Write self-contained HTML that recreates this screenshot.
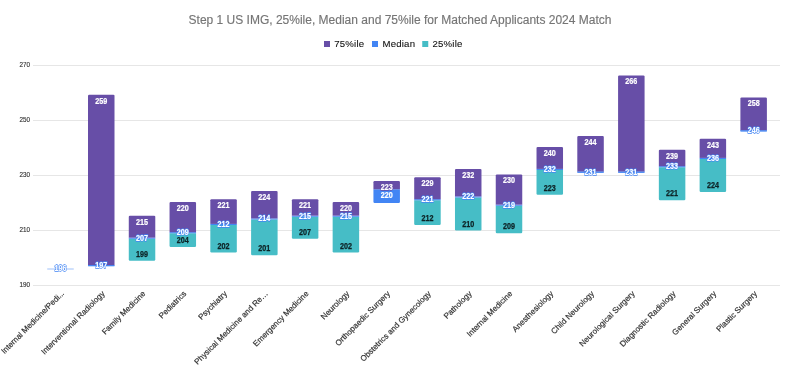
<!DOCTYPE html><html><head><meta charset="utf-8"><style>html,body{margin:0;padding:0;background:#fff;width:800px;height:376px;overflow:hidden}svg{display:block;will-change:transform}text{font-family:"Liberation Sans",sans-serif}</style></head><body>
<svg width="800" height="376" viewBox="0 0 800 376">
<defs><clipPath id="c1"><rect x="88.00" y="94.65" width="26.5" height="171.60" rx="1.2"/></clipPath><clipPath id="c2"><rect x="128.78" y="215.65" width="26.5" height="45.10" rx="1.2"/></clipPath><clipPath id="c3"><rect x="169.55" y="201.90" width="26.5" height="45.10" rx="1.2"/></clipPath><clipPath id="c4"><rect x="210.32" y="199.15" width="26.5" height="53.35" rx="1.2"/></clipPath><clipPath id="c5"><rect x="251.10" y="190.90" width="26.5" height="64.35" rx="1.2"/></clipPath><clipPath id="c6"><rect x="291.88" y="199.15" width="26.5" height="39.60" rx="1.2"/></clipPath><clipPath id="c7"><rect x="332.65" y="201.90" width="26.5" height="50.60" rx="1.2"/></clipPath><clipPath id="c8"><rect x="373.43" y="181.00" width="26.5" height="22.00" rx="1.2"/></clipPath><clipPath id="c9"><rect x="414.20" y="177.15" width="26.5" height="47.85" rx="1.2"/></clipPath><clipPath id="c10"><rect x="454.98" y="168.90" width="26.5" height="61.60" rx="1.2"/></clipPath><clipPath id="c11"><rect x="495.75" y="174.40" width="26.5" height="58.85" rx="1.2"/></clipPath><clipPath id="c12"><rect x="536.52" y="146.90" width="26.5" height="47.85" rx="1.2"/></clipPath><clipPath id="c13"><rect x="577.30" y="135.90" width="26.5" height="36.85" rx="1.2"/></clipPath><clipPath id="c14"><rect x="618.08" y="75.40" width="26.5" height="97.35" rx="1.2"/></clipPath><clipPath id="c15"><rect x="658.85" y="149.65" width="26.5" height="50.60" rx="1.2"/></clipPath><clipPath id="c16"><rect x="699.62" y="138.65" width="26.5" height="53.35" rx="1.2"/></clipPath><clipPath id="c17"><rect x="740.40" y="97.40" width="26.5" height="34.10" rx="1.2"/></clipPath></defs><rect x="0" y="0" width="800" height="376" fill="#fff"/>
<text x="400" y="23.5" text-anchor="middle" font-size="12" fill="#757575" stroke="#757575" stroke-width="0.15">Step 1 US IMG, 25%ile, Median and 75%ile for Matched Applicants 2024 Match</text>
<rect x="324" y="41" width="6" height="6" fill="#674ea7"/>
<text x="334.25" y="46.7" font-size="9.6" letter-spacing="0.2" fill="#111" stroke="#111" stroke-width="0.1">75%ile</text>
<rect x="372" y="41" width="6" height="6" fill="#4285f4"/>
<text x="382.5" y="46.7" font-size="9.6" letter-spacing="0.2" fill="#111" stroke="#111" stroke-width="0.1">Median</text>
<rect x="422.25" y="41" width="6" height="6" fill="#46bdc6"/>
<text x="432.5" y="46.7" font-size="9.6" letter-spacing="0.2" fill="#111" stroke="#111" stroke-width="0.1">25%ile</text>
<rect x="33" y="285.00" width="747" height="1" fill="#e6e6e6"/>
<text x="30" y="287.30" text-anchor="end" font-size="7" textLength="10.5" lengthAdjust="spacingAndGlyphs" fill="#333" stroke="#333" stroke-width="0.15">190</text>
<rect x="33" y="230.00" width="747" height="1" fill="#e6e6e6"/>
<text x="30" y="232.30" text-anchor="end" font-size="7" textLength="10.5" lengthAdjust="spacingAndGlyphs" fill="#333" stroke="#333" stroke-width="0.15">210</text>
<rect x="33" y="175.00" width="747" height="1" fill="#e6e6e6"/>
<text x="30" y="177.30" text-anchor="end" font-size="7" textLength="10.5" lengthAdjust="spacingAndGlyphs" fill="#333" stroke="#333" stroke-width="0.15">230</text>
<rect x="33" y="120.00" width="747" height="1" fill="#e6e6e6"/>
<text x="30" y="122.30" text-anchor="end" font-size="7" textLength="10.5" lengthAdjust="spacingAndGlyphs" fill="#333" stroke="#333" stroke-width="0.15">250</text>
<rect x="33" y="65.00" width="747" height="1" fill="#e6e6e6"/>
<text x="30" y="67.30" text-anchor="end" font-size="7" textLength="10.5" lengthAdjust="spacingAndGlyphs" fill="#333" stroke="#333" stroke-width="0.15">270</text>
<rect x="47.23" y="268.50" width="26.5" height="1" fill="#4285f4" fill-opacity="0.5"/>
<g clip-path="url(#c1)">
<rect x="86.00" y="265.15" width="30.5" height="1.10" fill="#4285f4"/>
<rect x="86.00" y="92.65" width="30.5" height="172.50" fill="#674ea7"/>
</g>
<rect x="88.00" y="265.15" width="26.5" height="1.10" fill="#4285f4"/>
<g clip-path="url(#c2)">
<rect x="126.78" y="238.75" width="30.5" height="24.00" fill="#46bdc6"/>
<rect x="126.78" y="237.65" width="30.5" height="1.10" fill="#4285f4"/>
<rect x="126.78" y="213.65" width="30.5" height="24.00" fill="#674ea7"/>
</g>
<g clip-path="url(#c3)">
<rect x="167.55" y="233.25" width="30.5" height="15.75" fill="#46bdc6"/>
<rect x="167.55" y="232.15" width="30.5" height="1.10" fill="#4285f4"/>
<rect x="167.55" y="199.90" width="30.5" height="32.25" fill="#674ea7"/>
</g>
<g clip-path="url(#c4)">
<rect x="208.32" y="225.00" width="30.5" height="29.50" fill="#46bdc6"/>
<rect x="208.32" y="223.90" width="30.5" height="1.10" fill="#4285f4"/>
<rect x="208.32" y="197.15" width="30.5" height="26.75" fill="#674ea7"/>
</g>
<g clip-path="url(#c5)">
<rect x="249.10" y="219.50" width="30.5" height="37.75" fill="#46bdc6"/>
<rect x="249.10" y="218.40" width="30.5" height="1.10" fill="#4285f4"/>
<rect x="249.10" y="188.90" width="30.5" height="29.50" fill="#674ea7"/>
</g>
<g clip-path="url(#c6)">
<rect x="289.88" y="216.75" width="30.5" height="24.00" fill="#46bdc6"/>
<rect x="289.88" y="215.65" width="30.5" height="1.10" fill="#4285f4"/>
<rect x="289.88" y="197.15" width="30.5" height="18.50" fill="#674ea7"/>
</g>
<g clip-path="url(#c7)">
<rect x="330.65" y="216.75" width="30.5" height="37.75" fill="#46bdc6"/>
<rect x="330.65" y="215.65" width="30.5" height="1.10" fill="#4285f4"/>
<rect x="330.65" y="199.90" width="30.5" height="15.75" fill="#674ea7"/>
</g>
<g clip-path="url(#c8)">
<rect x="371.43" y="189.25" width="30.5" height="15.75" fill="#4285f4"/>
<rect x="371.43" y="179.00" width="30.5" height="10.25" fill="#674ea7"/>
</g>
<g clip-path="url(#c9)">
<rect x="412.20" y="200.25" width="30.5" height="26.75" fill="#46bdc6"/>
<rect x="412.20" y="199.15" width="30.5" height="1.10" fill="#4285f4"/>
<rect x="412.20" y="175.15" width="30.5" height="24.00" fill="#674ea7"/>
</g>
<g clip-path="url(#c10)">
<rect x="452.98" y="197.50" width="30.5" height="35.00" fill="#46bdc6"/>
<rect x="452.98" y="196.40" width="30.5" height="1.10" fill="#4285f4"/>
<rect x="452.98" y="166.90" width="30.5" height="29.50" fill="#674ea7"/>
</g>
<g clip-path="url(#c11)">
<rect x="493.75" y="205.75" width="30.5" height="29.50" fill="#46bdc6"/>
<rect x="493.75" y="204.65" width="30.5" height="1.10" fill="#4285f4"/>
<rect x="493.75" y="172.40" width="30.5" height="32.25" fill="#674ea7"/>
</g>
<g clip-path="url(#c12)">
<rect x="534.52" y="170.00" width="30.5" height="26.75" fill="#46bdc6"/>
<rect x="534.52" y="168.90" width="30.5" height="1.10" fill="#4285f4"/>
<rect x="534.52" y="144.90" width="30.5" height="24.00" fill="#674ea7"/>
</g>
<g clip-path="url(#c13)">
<rect x="575.30" y="171.65" width="30.5" height="1.10" fill="#4285f4"/>
<rect x="575.30" y="133.90" width="30.5" height="37.75" fill="#674ea7"/>
</g>
<rect x="577.30" y="171.65" width="26.5" height="1.10" fill="#4285f4"/>
<g clip-path="url(#c14)">
<rect x="616.08" y="171.65" width="30.5" height="1.10" fill="#4285f4"/>
<rect x="616.08" y="73.40" width="30.5" height="98.25" fill="#674ea7"/>
</g>
<rect x="618.08" y="171.65" width="26.5" height="1.10" fill="#4285f4"/>
<g clip-path="url(#c15)">
<rect x="656.85" y="167.25" width="30.5" height="35.00" fill="#46bdc6"/>
<rect x="656.85" y="166.15" width="30.5" height="1.10" fill="#4285f4"/>
<rect x="656.85" y="147.65" width="30.5" height="18.50" fill="#674ea7"/>
</g>
<g clip-path="url(#c16)">
<rect x="697.62" y="159.00" width="30.5" height="35.00" fill="#46bdc6"/>
<rect x="697.62" y="157.90" width="30.5" height="1.10" fill="#4285f4"/>
<rect x="697.62" y="136.65" width="30.5" height="21.25" fill="#674ea7"/>
</g>
<g clip-path="url(#c17)">
<rect x="738.40" y="130.40" width="30.5" height="1.10" fill="#4285f4"/>
<rect x="738.40" y="95.40" width="30.5" height="35.00" fill="#674ea7"/>
</g>
<rect x="740.40" y="130.40" width="26.5" height="1.10" fill="#4285f4"/>
<text x="60.48" y="271.20" text-anchor="middle" font-size="8.3" font-weight="bold" textLength="12.0" lengthAdjust="spacingAndGlyphs" fill="#4285f4" stroke="#4285f4" stroke-width="1.3" stroke-linejoin="round">196</text>
<text x="60.48" y="271.20" text-anchor="middle" font-size="8.3" font-weight="bold" textLength="12.0" lengthAdjust="spacingAndGlyphs" fill="#fff" stroke="#fff" stroke-width="0.15">196</text>
<text x="101.25" y="103.55" text-anchor="middle" font-size="8.3" font-weight="bold" textLength="12.0" lengthAdjust="spacingAndGlyphs" fill="#fff" stroke="#fff" stroke-width="0.2">259</text>
<text x="101.25" y="268.10" text-anchor="middle" font-size="8.3" font-weight="bold" textLength="12.0" lengthAdjust="spacingAndGlyphs" fill="#4285f4" stroke="#4285f4" stroke-width="1.3" stroke-linejoin="round">197</text>
<text x="101.25" y="268.10" text-anchor="middle" font-size="8.3" font-weight="bold" textLength="12.0" lengthAdjust="spacingAndGlyphs" fill="#fff" stroke="#fff" stroke-width="0.15">197</text>
<text x="142.03" y="256.85" text-anchor="middle" font-size="8.3" font-weight="bold" textLength="12.0" lengthAdjust="spacingAndGlyphs" fill="#0d2326" stroke="#0d2326" stroke-width="0.25">199</text>
<text x="142.03" y="224.55" text-anchor="middle" font-size="8.3" font-weight="bold" textLength="12.0" lengthAdjust="spacingAndGlyphs" fill="#fff" stroke="#fff" stroke-width="0.2">215</text>
<text x="142.03" y="240.60" text-anchor="middle" font-size="8.3" font-weight="bold" textLength="12.0" lengthAdjust="spacingAndGlyphs" fill="#4285f4" stroke="#4285f4" stroke-width="1.3" stroke-linejoin="round">207</text>
<text x="142.03" y="240.60" text-anchor="middle" font-size="8.3" font-weight="bold" textLength="12.0" lengthAdjust="spacingAndGlyphs" fill="#fff" stroke="#fff" stroke-width="0.15">207</text>
<text x="182.80" y="243.10" text-anchor="middle" font-size="8.3" font-weight="bold" textLength="12.0" lengthAdjust="spacingAndGlyphs" fill="#0d2326" stroke="#0d2326" stroke-width="0.25">204</text>
<text x="182.80" y="210.80" text-anchor="middle" font-size="8.3" font-weight="bold" textLength="12.0" lengthAdjust="spacingAndGlyphs" fill="#fff" stroke="#fff" stroke-width="0.2">220</text>
<text x="182.80" y="235.10" text-anchor="middle" font-size="8.3" font-weight="bold" textLength="12.0" lengthAdjust="spacingAndGlyphs" fill="#4285f4" stroke="#4285f4" stroke-width="1.3" stroke-linejoin="round">209</text>
<text x="182.80" y="235.10" text-anchor="middle" font-size="8.3" font-weight="bold" textLength="12.0" lengthAdjust="spacingAndGlyphs" fill="#fff" stroke="#fff" stroke-width="0.15">209</text>
<text x="223.57" y="248.60" text-anchor="middle" font-size="8.3" font-weight="bold" textLength="12.0" lengthAdjust="spacingAndGlyphs" fill="#0d2326" stroke="#0d2326" stroke-width="0.25">202</text>
<text x="223.57" y="208.05" text-anchor="middle" font-size="8.3" font-weight="bold" textLength="12.0" lengthAdjust="spacingAndGlyphs" fill="#fff" stroke="#fff" stroke-width="0.2">221</text>
<text x="223.57" y="226.85" text-anchor="middle" font-size="8.3" font-weight="bold" textLength="12.0" lengthAdjust="spacingAndGlyphs" fill="#4285f4" stroke="#4285f4" stroke-width="1.3" stroke-linejoin="round">212</text>
<text x="223.57" y="226.85" text-anchor="middle" font-size="8.3" font-weight="bold" textLength="12.0" lengthAdjust="spacingAndGlyphs" fill="#fff" stroke="#fff" stroke-width="0.15">212</text>
<text x="264.35" y="251.35" text-anchor="middle" font-size="8.3" font-weight="bold" textLength="12.0" lengthAdjust="spacingAndGlyphs" fill="#0d2326" stroke="#0d2326" stroke-width="0.25">201</text>
<text x="264.35" y="199.80" text-anchor="middle" font-size="8.3" font-weight="bold" textLength="12.0" lengthAdjust="spacingAndGlyphs" fill="#fff" stroke="#fff" stroke-width="0.2">224</text>
<text x="264.35" y="221.35" text-anchor="middle" font-size="8.3" font-weight="bold" textLength="12.0" lengthAdjust="spacingAndGlyphs" fill="#4285f4" stroke="#4285f4" stroke-width="1.3" stroke-linejoin="round">214</text>
<text x="264.35" y="221.35" text-anchor="middle" font-size="8.3" font-weight="bold" textLength="12.0" lengthAdjust="spacingAndGlyphs" fill="#fff" stroke="#fff" stroke-width="0.15">214</text>
<text x="305.12" y="234.85" text-anchor="middle" font-size="8.3" font-weight="bold" textLength="12.0" lengthAdjust="spacingAndGlyphs" fill="#0d2326" stroke="#0d2326" stroke-width="0.25">207</text>
<text x="305.12" y="208.05" text-anchor="middle" font-size="8.3" font-weight="bold" textLength="12.0" lengthAdjust="spacingAndGlyphs" fill="#fff" stroke="#fff" stroke-width="0.2">221</text>
<text x="305.12" y="218.60" text-anchor="middle" font-size="8.3" font-weight="bold" textLength="12.0" lengthAdjust="spacingAndGlyphs" fill="#4285f4" stroke="#4285f4" stroke-width="1.3" stroke-linejoin="round">215</text>
<text x="305.12" y="218.60" text-anchor="middle" font-size="8.3" font-weight="bold" textLength="12.0" lengthAdjust="spacingAndGlyphs" fill="#fff" stroke="#fff" stroke-width="0.15">215</text>
<text x="345.90" y="248.60" text-anchor="middle" font-size="8.3" font-weight="bold" textLength="12.0" lengthAdjust="spacingAndGlyphs" fill="#0d2326" stroke="#0d2326" stroke-width="0.25">202</text>
<text x="345.90" y="210.80" text-anchor="middle" font-size="8.3" font-weight="bold" textLength="12.0" lengthAdjust="spacingAndGlyphs" fill="#fff" stroke="#fff" stroke-width="0.2">220</text>
<text x="345.90" y="218.60" text-anchor="middle" font-size="8.3" font-weight="bold" textLength="12.0" lengthAdjust="spacingAndGlyphs" fill="#4285f4" stroke="#4285f4" stroke-width="1.3" stroke-linejoin="round">215</text>
<text x="345.90" y="218.60" text-anchor="middle" font-size="8.3" font-weight="bold" textLength="12.0" lengthAdjust="spacingAndGlyphs" fill="#fff" stroke="#fff" stroke-width="0.15">215</text>
<text x="386.68" y="189.80" text-anchor="middle" font-size="8.3" font-weight="bold" textLength="12.0" lengthAdjust="spacingAndGlyphs" fill="#674ea7" stroke="#674ea7" stroke-width="1.3" stroke-linejoin="round">223</text>
<text x="386.68" y="189.80" text-anchor="middle" font-size="8.3" font-weight="bold" textLength="12.0" lengthAdjust="spacingAndGlyphs" fill="#fff" stroke="#fff" stroke-width="0.2">223</text>
<text x="386.68" y="198.40" text-anchor="middle" font-size="8.3" font-weight="bold" textLength="12.0" lengthAdjust="spacingAndGlyphs" fill="#fff" stroke="#fff" stroke-width="0.2">220</text>
<text x="427.45" y="221.10" text-anchor="middle" font-size="8.3" font-weight="bold" textLength="12.0" lengthAdjust="spacingAndGlyphs" fill="#0d2326" stroke="#0d2326" stroke-width="0.25">212</text>
<text x="427.45" y="186.05" text-anchor="middle" font-size="8.3" font-weight="bold" textLength="12.0" lengthAdjust="spacingAndGlyphs" fill="#fff" stroke="#fff" stroke-width="0.2">229</text>
<text x="427.45" y="202.10" text-anchor="middle" font-size="8.3" font-weight="bold" textLength="12.0" lengthAdjust="spacingAndGlyphs" fill="#4285f4" stroke="#4285f4" stroke-width="1.3" stroke-linejoin="round">221</text>
<text x="427.45" y="202.10" text-anchor="middle" font-size="8.3" font-weight="bold" textLength="12.0" lengthAdjust="spacingAndGlyphs" fill="#fff" stroke="#fff" stroke-width="0.15">221</text>
<text x="468.23" y="226.60" text-anchor="middle" font-size="8.3" font-weight="bold" textLength="12.0" lengthAdjust="spacingAndGlyphs" fill="#0d2326" stroke="#0d2326" stroke-width="0.25">210</text>
<text x="468.23" y="177.80" text-anchor="middle" font-size="8.3" font-weight="bold" textLength="12.0" lengthAdjust="spacingAndGlyphs" fill="#fff" stroke="#fff" stroke-width="0.2">232</text>
<text x="468.23" y="199.35" text-anchor="middle" font-size="8.3" font-weight="bold" textLength="12.0" lengthAdjust="spacingAndGlyphs" fill="#4285f4" stroke="#4285f4" stroke-width="1.3" stroke-linejoin="round">222</text>
<text x="468.23" y="199.35" text-anchor="middle" font-size="8.3" font-weight="bold" textLength="12.0" lengthAdjust="spacingAndGlyphs" fill="#fff" stroke="#fff" stroke-width="0.15">222</text>
<text x="509.00" y="229.35" text-anchor="middle" font-size="8.3" font-weight="bold" textLength="12.0" lengthAdjust="spacingAndGlyphs" fill="#0d2326" stroke="#0d2326" stroke-width="0.25">209</text>
<text x="509.00" y="183.30" text-anchor="middle" font-size="8.3" font-weight="bold" textLength="12.0" lengthAdjust="spacingAndGlyphs" fill="#fff" stroke="#fff" stroke-width="0.2">230</text>
<text x="509.00" y="207.60" text-anchor="middle" font-size="8.3" font-weight="bold" textLength="12.0" lengthAdjust="spacingAndGlyphs" fill="#4285f4" stroke="#4285f4" stroke-width="1.3" stroke-linejoin="round">219</text>
<text x="509.00" y="207.60" text-anchor="middle" font-size="8.3" font-weight="bold" textLength="12.0" lengthAdjust="spacingAndGlyphs" fill="#fff" stroke="#fff" stroke-width="0.15">219</text>
<text x="549.77" y="190.85" text-anchor="middle" font-size="8.3" font-weight="bold" textLength="12.0" lengthAdjust="spacingAndGlyphs" fill="#0d2326" stroke="#0d2326" stroke-width="0.25">223</text>
<text x="549.77" y="155.80" text-anchor="middle" font-size="8.3" font-weight="bold" textLength="12.0" lengthAdjust="spacingAndGlyphs" fill="#fff" stroke="#fff" stroke-width="0.2">240</text>
<text x="549.77" y="171.85" text-anchor="middle" font-size="8.3" font-weight="bold" textLength="12.0" lengthAdjust="spacingAndGlyphs" fill="#4285f4" stroke="#4285f4" stroke-width="1.3" stroke-linejoin="round">232</text>
<text x="549.77" y="171.85" text-anchor="middle" font-size="8.3" font-weight="bold" textLength="12.0" lengthAdjust="spacingAndGlyphs" fill="#fff" stroke="#fff" stroke-width="0.15">232</text>
<text x="590.55" y="144.80" text-anchor="middle" font-size="8.3" font-weight="bold" textLength="12.0" lengthAdjust="spacingAndGlyphs" fill="#fff" stroke="#fff" stroke-width="0.2">244</text>
<text x="590.55" y="174.60" text-anchor="middle" font-size="8.3" font-weight="bold" textLength="12.0" lengthAdjust="spacingAndGlyphs" fill="#4285f4" stroke="#4285f4" stroke-width="1.3" stroke-linejoin="round">231</text>
<text x="590.55" y="174.60" text-anchor="middle" font-size="8.3" font-weight="bold" textLength="12.0" lengthAdjust="spacingAndGlyphs" fill="#fff" stroke="#fff" stroke-width="0.15">231</text>
<text x="631.33" y="84.30" text-anchor="middle" font-size="8.3" font-weight="bold" textLength="12.0" lengthAdjust="spacingAndGlyphs" fill="#fff" stroke="#fff" stroke-width="0.2">266</text>
<text x="631.33" y="174.60" text-anchor="middle" font-size="8.3" font-weight="bold" textLength="12.0" lengthAdjust="spacingAndGlyphs" fill="#4285f4" stroke="#4285f4" stroke-width="1.3" stroke-linejoin="round">231</text>
<text x="631.33" y="174.60" text-anchor="middle" font-size="8.3" font-weight="bold" textLength="12.0" lengthAdjust="spacingAndGlyphs" fill="#fff" stroke="#fff" stroke-width="0.15">231</text>
<text x="672.10" y="196.35" text-anchor="middle" font-size="8.3" font-weight="bold" textLength="12.0" lengthAdjust="spacingAndGlyphs" fill="#0d2326" stroke="#0d2326" stroke-width="0.25">221</text>
<text x="672.10" y="158.55" text-anchor="middle" font-size="8.3" font-weight="bold" textLength="12.0" lengthAdjust="spacingAndGlyphs" fill="#fff" stroke="#fff" stroke-width="0.2">239</text>
<text x="672.10" y="169.10" text-anchor="middle" font-size="8.3" font-weight="bold" textLength="12.0" lengthAdjust="spacingAndGlyphs" fill="#4285f4" stroke="#4285f4" stroke-width="1.3" stroke-linejoin="round">233</text>
<text x="672.10" y="169.10" text-anchor="middle" font-size="8.3" font-weight="bold" textLength="12.0" lengthAdjust="spacingAndGlyphs" fill="#fff" stroke="#fff" stroke-width="0.15">233</text>
<text x="712.88" y="188.10" text-anchor="middle" font-size="8.3" font-weight="bold" textLength="12.0" lengthAdjust="spacingAndGlyphs" fill="#0d2326" stroke="#0d2326" stroke-width="0.25">224</text>
<text x="712.88" y="147.55" text-anchor="middle" font-size="8.3" font-weight="bold" textLength="12.0" lengthAdjust="spacingAndGlyphs" fill="#fff" stroke="#fff" stroke-width="0.2">243</text>
<text x="712.88" y="160.85" text-anchor="middle" font-size="8.3" font-weight="bold" textLength="12.0" lengthAdjust="spacingAndGlyphs" fill="#4285f4" stroke="#4285f4" stroke-width="1.3" stroke-linejoin="round">236</text>
<text x="712.88" y="160.85" text-anchor="middle" font-size="8.3" font-weight="bold" textLength="12.0" lengthAdjust="spacingAndGlyphs" fill="#fff" stroke="#fff" stroke-width="0.15">236</text>
<text x="753.65" y="106.30" text-anchor="middle" font-size="8.3" font-weight="bold" textLength="12.0" lengthAdjust="spacingAndGlyphs" fill="#fff" stroke="#fff" stroke-width="0.2">258</text>
<text x="753.65" y="133.35" text-anchor="middle" font-size="8.3" font-weight="bold" textLength="12.0" lengthAdjust="spacingAndGlyphs" fill="#4285f4" stroke="#4285f4" stroke-width="1.3" stroke-linejoin="round">246</text>
<text x="753.65" y="133.35" text-anchor="middle" font-size="8.3" font-weight="bold" textLength="12.0" lengthAdjust="spacingAndGlyphs" fill="#fff" stroke="#fff" stroke-width="0.15">246</text>
<text x="64.47" y="294.20" text-anchor="end" font-size="8" fill="#333" stroke="#333" stroke-width="0.2" transform="rotate(-45 64.47 294.20)">Internal Medicine/Pedi<tspan letter-spacing="-0.3">...</tspan></text>
<text x="105.25" y="294.20" text-anchor="end" font-size="8" fill="#333" stroke="#333" stroke-width="0.2" transform="rotate(-45 105.25 294.20)">Interventional Radiology</text>
<text x="146.03" y="294.20" text-anchor="end" font-size="8" fill="#333" stroke="#333" stroke-width="0.2" transform="rotate(-45 146.03 294.20)">Family Medicine</text>
<text x="186.80" y="294.20" text-anchor="end" font-size="8" fill="#333" stroke="#333" stroke-width="0.2" transform="rotate(-45 186.80 294.20)">Pediatrics</text>
<text x="227.57" y="294.20" text-anchor="end" font-size="8" fill="#333" stroke="#333" stroke-width="0.2" transform="rotate(-45 227.57 294.20)">Psychiatry</text>
<text x="268.35" y="294.20" text-anchor="end" font-size="8" fill="#333" stroke="#333" stroke-width="0.2" transform="rotate(-45 268.35 294.20)">Physical Medicine and Re…</text>
<text x="309.12" y="294.20" text-anchor="end" font-size="8" fill="#333" stroke="#333" stroke-width="0.2" transform="rotate(-45 309.12 294.20)">Emergency Medicine</text>
<text x="349.90" y="294.20" text-anchor="end" font-size="8" fill="#333" stroke="#333" stroke-width="0.2" transform="rotate(-45 349.90 294.20)">Neurology</text>
<text x="390.68" y="294.20" text-anchor="end" font-size="8" fill="#333" stroke="#333" stroke-width="0.2" transform="rotate(-45 390.68 294.20)">Orthopaedic Surgery</text>
<text x="431.45" y="294.20" text-anchor="end" font-size="8" fill="#333" stroke="#333" stroke-width="0.2" transform="rotate(-45 431.45 294.20)">Obstetrics and Gynecology</text>
<text x="472.23" y="294.20" text-anchor="end" font-size="8" fill="#333" stroke="#333" stroke-width="0.2" transform="rotate(-45 472.23 294.20)">Pathology</text>
<text x="513.00" y="294.20" text-anchor="end" font-size="8" fill="#333" stroke="#333" stroke-width="0.2" transform="rotate(-45 513.00 294.20)">Internal Medicine</text>
<text x="553.77" y="294.20" text-anchor="end" font-size="8" fill="#333" stroke="#333" stroke-width="0.2" transform="rotate(-45 553.77 294.20)">Anesthesiology</text>
<text x="594.55" y="294.20" text-anchor="end" font-size="8" fill="#333" stroke="#333" stroke-width="0.2" transform="rotate(-45 594.55 294.20)">Child Neurology</text>
<text x="635.33" y="294.20" text-anchor="end" font-size="8" fill="#333" stroke="#333" stroke-width="0.2" transform="rotate(-45 635.33 294.20)">Neurological Surgery</text>
<text x="676.10" y="294.20" text-anchor="end" font-size="8" fill="#333" stroke="#333" stroke-width="0.2" transform="rotate(-45 676.10 294.20)">Diagnostic Radiology</text>
<text x="716.88" y="294.20" text-anchor="end" font-size="8" fill="#333" stroke="#333" stroke-width="0.2" transform="rotate(-45 716.88 294.20)">General Surgery</text>
<text x="757.65" y="294.20" text-anchor="end" font-size="8" fill="#333" stroke="#333" stroke-width="0.2" transform="rotate(-45 757.65 294.20)">Plastic Surgery</text>
</svg></body></html>
